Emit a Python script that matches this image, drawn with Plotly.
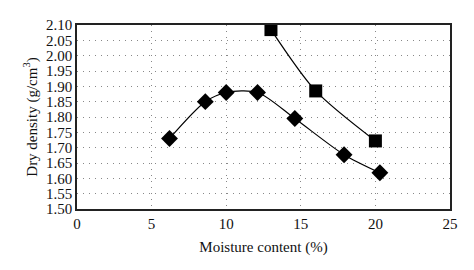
import plotly.graph_objects as go

diamond_x = [6.2, 8.6, 10.0, 12.1, 14.6, 17.9, 20.3]
diamond_y = [1.73, 1.85, 1.88, 1.88, 1.795, 1.677, 1.618]
square_x = [13.0, 16.0, 20.0]
square_y = [2.085, 1.885, 1.722]

fig = go.Figure()
fig.add_trace(go.Scatter(x=diamond_x, y=diamond_y, mode="lines+markers",
                         line=dict(color="black", width=1.2, shape="spline", smoothing=0.8),
                         marker=dict(symbol="diamond", size=13, color="black"),
                         showlegend=False))
fig.add_trace(go.Scatter(x=square_x, y=square_y, mode="lines+markers",
                         line=dict(color="black", width=1.2, shape="spline", smoothing=0.8),
                         marker=dict(symbol="square", size=13, color="black"),
                         showlegend=False, cliponaxis=False))

font = "Liberation Serif"
grid = dict(showgrid=True, gridcolor="#888", griddash="1px,5px", gridwidth=1)
fig.update_layout(
    width=474, height=270,
    margin=dict(l=77, r=24, t=25, b=61),
    paper_bgcolor="white", plot_bgcolor="white",
    font=dict(family=font, size=15, color="#111"),
    xaxis=dict(range=[0, 25], tickvals=[0, 5, 10, 15, 20, 25],
               showline=True, linecolor="#222", linewidth=1.5, mirror=True,
               zeroline=False, ticks="", tickfont=dict(size=15),
               title=dict(text="Moisture content (%)", font=dict(size=15), standoff=11), **grid),
    yaxis=dict(range=[1.50, 2.10], dtick=0.05, tickformat=".2f",
               showline=True, linecolor="#222", linewidth=1.5, mirror=True,
               zeroline=False, ticks="", tickfont=dict(size=15),
               title=dict(text="Dry density (g/cm<sup>3</sup>)", font=dict(size=15), standoff=5), **grid),
)
fig.write_html("out.html")
